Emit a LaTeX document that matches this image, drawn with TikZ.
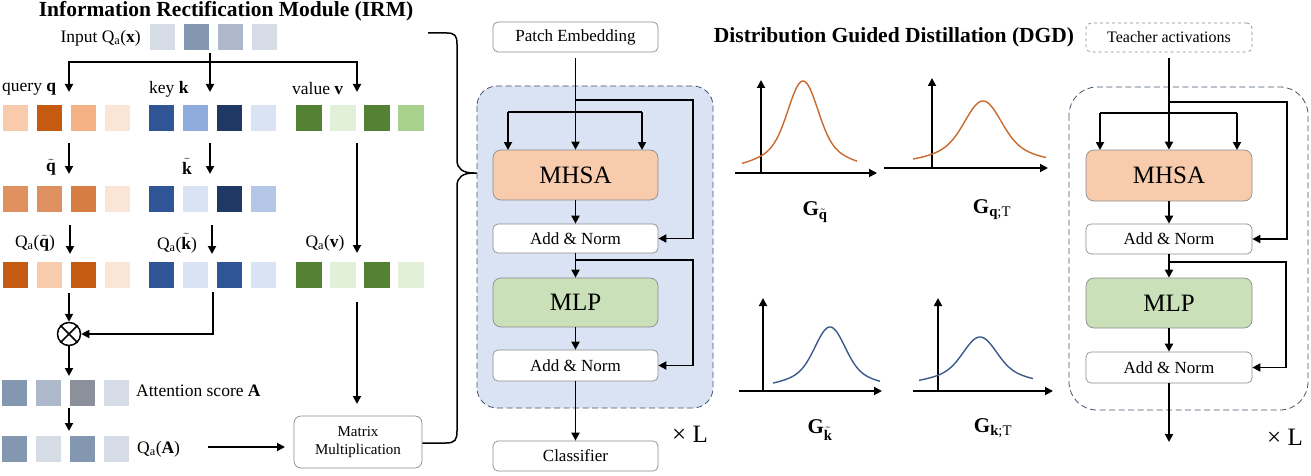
\documentclass[tikz,border=0pt]{standalone}
\usepackage{fontspec}
\setmainfont{Liberation Serif}
\usetikzlibrary{arrows.meta}
\definecolor{contfill}{HTML}{DAE3F3}
\definecolor{contdraw}{HTML}{44546A}
\definecolor{mhsafill}{HTML}{F8CBAD}
\definecolor{mlpfill}{HTML}{C9E0B8}
\definecolor{boxdraw}{HTML}{8C8C8C}
\definecolor{curveo}{HTML}{C8692D}
\definecolor{curveb}{HTML}{3A5A8C}
\tikzset{
  sq/.style={minimum width=25.5pt, minimum height=26pt, inner sep=0pt, outer sep=0pt},
  ln/.style={line width=1.8pt},
  arr/.style={line width=1.8pt, -{Triangle[length=8pt,width=8pt]}},
  box/.style={draw=boxdraw, line width=0.7pt, rounded corners=5pt, minimum width=165pt, inner sep=0pt, fill=white, font=\fontsize{17}{19}\selectfont},
  big/.style={font=\fontsize{25}{28}\selectfont, rounded corners=8pt},
  lab/.style={font=\fontsize{17.5}{20}\selectfont, inner sep=0pt},
  ttl/.style={font=\fontsize{21.5}{24}\selectfont\bfseries, inner sep=0pt},
  glab/.style={font=\fontsize{21}{24}\selectfont, inner sep=0pt},
  curve/.style={line width=1.4pt, samples=90, smooth},
  cont/.style={draw=contdraw, line width=0.8pt, dash pattern=on 6pt off 3.5pt}
}
\newcommand\sqrow[4]{%
  \foreach \c [count=\i] in {#4} {\definecolor{sqc}{HTML}{\c}\node[sq,fill=sqc] (#1\i) at ({#2+(\i-1)*34},#3) {};}}
\newcommand\tb[1]{$\tilde{\hbox{\bfseries #1}}$}
\begin{document}
\begin{tikzpicture}[x=1pt,y=-1pt]
\useasboundingbox (0,0) rectangle (1311,476);

% ---------- IRM ----------
\node[ttl] (irmt) at (226,11) {Information Rectification Module (IRM)};
\node[lab, anchor=east] (inlab) at (141,38) {Input Q\textsubscript{a}(\textbf{x})};
\sqrow{in}{162.5}{37.5}{D6DCE5,8497B0,ADB9CA,D6DCE5}

\node[lab, anchor=west] (ql) at (2,89) {query \textbf{q}};
\node[lab, anchor=west] (kl) at (149,89) {key \textbf{k}};
\node[lab, anchor=west] (vl) at (292,89) {value \textbf{v}};

\sqrow{q}{15.5}{118}{F8CBAD,C55A11,F4B183,FBE5D6}
\sqrow{k}{161.5}{118}{2F5597,8FAADC,203864,DAE3F3}
\sqrow{v}{309}{118}{548235,E2F0D9,548235,A9D18E}

\coordinate (sp) at (210,62);
\draw[ln] (210,53) -- (sp);
\draw[arr] (sp) -- (210,92);
\draw[arr] (sp) -| (69,92);
\draw[arr] (sp) -| (357,92);

\node[lab] (qtl) at (51,167) {\tb{q}};
\node[lab] (ktl) at (187,166) {\tb{k}};
\draw[arr] (69,143) -- (69,174);
\draw[arr] (210,143) -- (210,174);
\draw[arr] (357,143) -- (357,253);

\sqrow{qt}{15.5}{198.5}{E0915F,DF9060,D67D43,FBE5D6}
\sqrow{kt}{161.5}{198.5}{2F5597,DAE3F3,203864,B4C7E7}

\node[lab] (qql) at (35,243) {Q\textsubscript{a}(\tb{q})};
\node[lab] (qkl) at (177,243) {Q\textsubscript{a}(\tb{k})};
\node[lab] (qvl) at (325,243) {Q\textsubscript{a}(\textbf{v})};
\draw[arr] (70,225) -- (70,254);
\draw[arr] (212,225) -- (212,254);

\sqrow{qq}{15.5}{274.5}{C55A11,F8CBAD,C55A11,FBE5D6}
\sqrow{qk}{161.5}{274.5}{2F5597,DAE3F3,2F5597,DAE3F3}
\sqrow{qv}{309}{274.5}{548235,E2F0D9,548235,E2F0D9}

\node[circle, draw, line width=1.5pt, minimum size=23pt, inner sep=0pt] (ot) at (69,334) {};
\draw[line width=1.5pt] (ot.north west) -- (ot.south east) (ot.north east) -- (ot.south west);
\draw[arr] (69,293) -- (ot.north);
\draw[arr] (213,292) |- (ot.east);
\draw[arr] (357,302) -- (357,404);
\draw[arr] (ot.south) -- (69,376);

\sqrow{at}{14.5}{392.5}{8497B0,ADB9CA,8B909B,D6DCE5}
\node[lab, anchor=west] (atl) at (136,391) {Attention score \textbf{A}};
\draw[arr] (69,408) -- (69,431);
\sqrow{qa}{14.5}{449}{8497B0,D6DCE5,8497B0,D6DCE5}
\node[lab, anchor=west] (qal) at (137,449) {Q\textsubscript{a}(\textbf{A})};

\node[box, minimum width=128pt, minimum height=52pt, align=center, font=\fontsize{15}{18}\selectfont, rounded corners=7pt] (mm) at (358,442) {Matrix\\Multiplication};
\draw[arr] (208,447) -- (285,447);

% brace
\draw[line width=1.5pt] (mm.east |- 0,443) -- (446,443) .. controls (455,443) and (457,440) .. (457,431) -- (457,186)
  .. controls (457,177) and (463,173) .. (474,173) -- (485,173);
\draw[line width=1.5pt] (474,173) .. controls (463,173) and (457,169) .. (457,160) -- (457,44)
  .. controls (457,36) and (455,33) .. (447,33) -- (428,33);

% ---------- middle transformer ----------
\draw[cont, fill=contfill, rounded corners=20pt] (477,86) rectangle (713,408);
\node[box, minimum height=30pt] (pe) at (575.5,37) {Patch Embedding};
\node[box, big, fill=mhsafill, minimum height=50pt] (m1) at (575.5,175) {MHSA};
\node[box, minimum height=29pt] (a1) at (575.5,238.5) {Add \& Norm};
\node[box, big, fill=mlpfill, minimum height=49pt] (p1) at (575.5,302.5) {MLP};
\node[box, minimum height=31pt] (a2) at (575.5,365.5) {Add \& Norm};
\node[box, minimum height=30pt] (cl) at (575.5,456) {Classifier};
\coordinate (s1) at (575.5,100);
\draw[arr, shorten <=6pt] (pe.south) -- (m1.north);
\draw[arr] (s1) -- (693,100) |- (a1.east);
\draw[ln] (508,112) -- (642,112);
\draw[arr] (508,112) -- (508,150);
\draw[arr] (642,112) -- (642,150);
\draw[arr] (m1.south) -- (a1.north);
\draw[arr] (a1.south) -- (p1.north);
\draw[arr] (575.5,260) -- (693,260) |- (a2.east);
\draw[arr] (p1.south) -- (a2.north);
\draw[arr] (a2.south) -- (cl.north);
\node[font=\fontsize{25}{28}\selectfont] (xl1) at (690,434) {× L};

% ---------- DGD ----------
\node[ttl] (dgdt) at (894,37) {Distribution Guided Distillation (DGD)};

\draw[arr] (735,173) -- (877,173);
\draw[arr] (761,173) -- (761,80);
\draw[curveo, curve, domain=742:857] plot (\x, {169 - 63*exp(-(\x-803)*(\x-803)/400) - 25*exp(-(\x-803)*(\x-803)/2500)});
\node[glab] (g1) at (815,212) {\textbf{G}\textsubscript{\tb{q}}};

\draw[arr] (884,168) -- (1048,168);
\draw[arr] (932,168) -- (932,78);
\draw[curveo, curve, domain=913:1046] plot (\x, {163 - 42*exp(-(\x-983)*(\x-983)/576) - 20*exp(-(\x-983)*(\x-983)/3025)});
\node[glab] (g2) at (992,210) {\textbf{G}\textsubscript{\textbf{q};T}};

\draw[arr] (739,391) -- (882,391);
\draw[arr] (763,391) -- (763,298);
\draw[curveb, curve, domain=773:880] plot (\x, {388 - 43*exp(-(\x-830)*(\x-830)/400) - 18*exp(-(\x-830)*(\x-830)/2500)});
\node[glab] (g3) at (820,430) {\textbf{G}\textsubscript{\tb{k}}};

\draw[arr] (913,391) -- (1053,391);
\draw[arr] (938,391) -- (938,298);
\draw[curveb, curve, domain=919:1033] plot (\x, {385 - 32*exp(-(\x-980)*(\x-980)/484) - 16*exp(-(\x-980)*(\x-980)/3025)});
\node[glab] (g4) at (993,428) {\textbf{G}\textsubscript{\textbf{k};T}};

% ---------- right transformer ----------
\draw[cont, rounded corners=28pt] (1069,87) rectangle (1308,410);
\node[box, dashed, minimum width=166pt, minimum height=29pt, font=\fontsize{16}{19}\selectfont] (ta) at (1169,37.5) {Teacher activations};
\node[box, big, fill=mhsafill, minimum width=166pt, minimum height=51pt] (m2) at (1169,175.5) {MHSA};
\node[box, minimum width=166pt, minimum height=30pt] (a3) at (1169,239) {Add \& Norm};
\node[box, big, fill=mlpfill, minimum width=166pt, minimum height=50pt] (p2) at (1169,303) {MLP};
\node[box, minimum width=166pt, minimum height=31pt] (a4) at (1169,367.5) {Add \& Norm};
\coordinate (s2) at (1169,102);
\coordinate (outend) at (1169,442);
\draw[arr, shorten <=6pt] (ta.south) -- (m2.north);
\draw[arr] (s2) -- (1287,102) |- (a3.east);
\draw[ln] (1100,113) -- (1237,113);
\draw[arr] (1100,113) -- (1100,150);
\draw[arr] (1237,113) -- (1237,150);
\draw[arr] (m2.south) -- (a3.north);
\draw[arr] (a3.south) -- (p2.north);
\draw[arr] (1169,262) -- (1286,262) |- (a4.east);
\draw[arr] (p2.south) -- (a4.north);
\draw[arr] (a4.south) -- (outend);
\node[font=\fontsize{25}{28}\selectfont] (xl2) at (1285,437) {× L};
\end{tikzpicture}
\end{document}
